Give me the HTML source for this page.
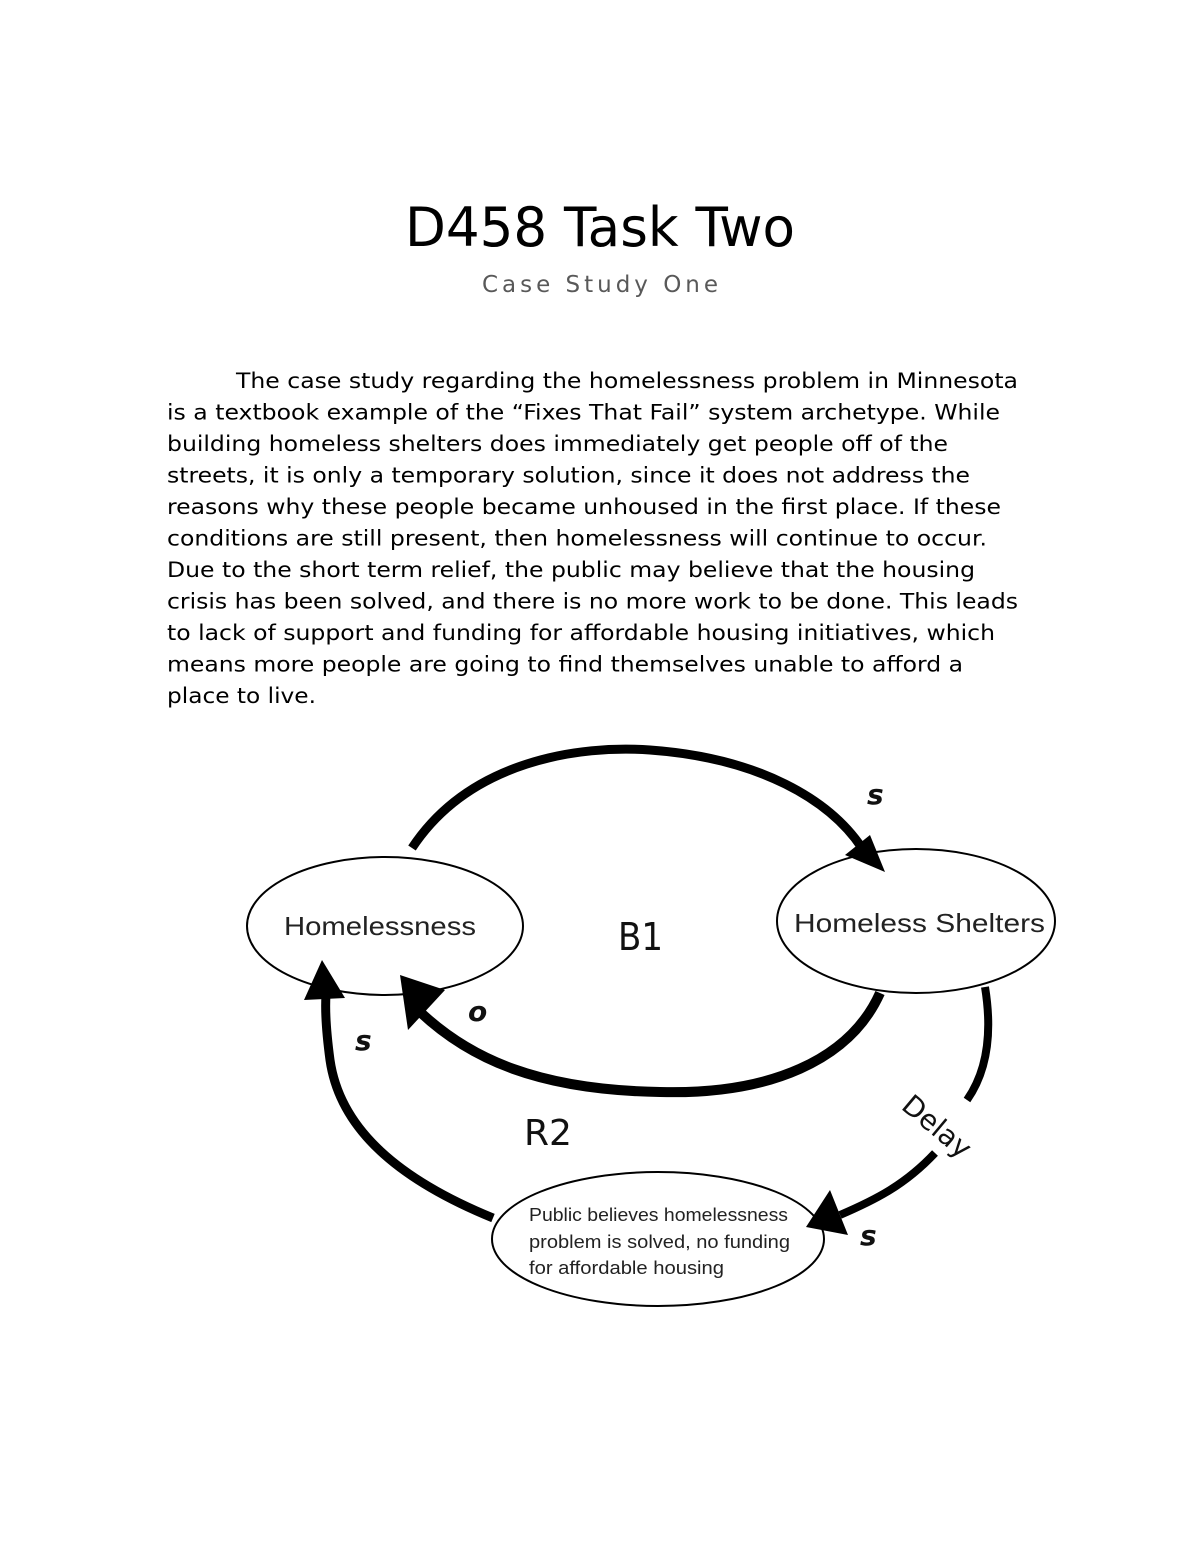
<!DOCTYPE html>
<html><head><meta charset="utf-8"><style>
html,body{margin:0;padding:0;background:#fff;}
svg{display:block;}
.b{font-family:"DejaVu Sans","Liberation Sans",sans-serif;font-size:21px;fill:#000;}
.c{font-family:"Liberation Sans","DejaVu Sans",sans-serif;}
.h{font-family:"DejaVu Sans","Liberation Sans",sans-serif;font-style:italic;font-weight:bold;fill:#111;}
</style></head><body>
<svg width="1200" height="1553" viewBox="0 0 1200 1553" xmlns="http://www.w3.org/2000/svg">
<text x="405" y="246" font-family="DejaVu Sans, sans-serif" font-size="54" textLength="390" lengthAdjust="spacingAndGlyphs">D458 Task Two</text>
<text x="482" y="292" font-family="DejaVu Sans, sans-serif" font-size="23" fill="#595959" textLength="236" lengthAdjust="spacing">Case Study One</text>
<g class="b">
<text x="236" y="388" textLength="782" lengthAdjust="spacingAndGlyphs">The case study regarding the homelessness problem in Minnesota</text>
<text x="167" y="419.5" textLength="833" lengthAdjust="spacingAndGlyphs">is a textbook example of the “Fixes That Fail” system archetype. While</text>
<text x="167" y="451" textLength="781" lengthAdjust="spacingAndGlyphs">building homeless shelters does immediately get people off of the</text>
<text x="167" y="482.5" textLength="803" lengthAdjust="spacingAndGlyphs">streets, it is only a temporary solution, since it does not address the</text>
<text x="167" y="514" textLength="834" lengthAdjust="spacingAndGlyphs">reasons why these people became unhoused in the first place. If these</text>
<text x="167" y="545.5" textLength="820" lengthAdjust="spacingAndGlyphs">conditions are still present, then homelessness will continue to occur.</text>
<text x="167" y="577" textLength="808" lengthAdjust="spacingAndGlyphs">Due to the short term relief, the public may believe that the housing</text>
<text x="167" y="608.5" textLength="851" lengthAdjust="spacingAndGlyphs">crisis has been solved, and there is no more work to be done. This leads</text>
<text x="167" y="640" textLength="828" lengthAdjust="spacingAndGlyphs">to lack of support and funding for affordable housing initiatives, which</text>
<text x="167" y="671.5" textLength="796" lengthAdjust="spacingAndGlyphs">means more people are going to find themselves unable to afford a</text>
<text x="167" y="703" textLength="149" lengthAdjust="spacingAndGlyphs">place to live.</text>
</g>
<g fill="none" stroke="#000" stroke-linecap="butt">
<ellipse cx="385" cy="926" rx="138" ry="69" stroke-width="2"/>
<ellipse cx="916" cy="921" rx="139" ry="72" stroke-width="2"/>
<ellipse cx="658" cy="1239" rx="166" ry="67" stroke-width="2"/>
<path d="M412 848 C470 760 580 745 650 750 C760 758 830 800 862 848" stroke-width="9"/>
<path d="M880 993 C850 1060 770 1095 660 1092 C540 1090 470 1060 418 1010" stroke-width="10"/>
<path d="M493 1218 C400 1180 340 1130 330 1060 C326 1030 325 1010 326 995" stroke-width="9"/>
<path d="M985 987 C992 1030 988 1070 967 1100" stroke-width="8"/>
<path d="M935 1153 C905 1185 875 1200 840 1215" stroke-width="8"/>
</g>
<g fill="#000">
<polygon points="885,872 845,855 870,835"/>
<polygon points="400,975 445,990 408,1030"/>
<polygon points="322,960 304,1000 345,998"/>
<polygon points="806,1227 830,1190 848,1235"/>
</g>
<g class="c" fill="#222">
<text x="284" y="935" font-size="26" textLength="192" lengthAdjust="spacingAndGlyphs">Homelessness</text>
<text x="794" y="932" font-size="26" textLength="251" lengthAdjust="spacingAndGlyphs">Homeless Shelters</text>
<text x="529" y="1221" font-size="18.5" textLength="259" lengthAdjust="spacingAndGlyphs">Public believes homelessness</text>
<text x="529" y="1248" font-size="18.5" textLength="261" lengthAdjust="spacingAndGlyphs">problem is solved, no funding</text>
<text x="529" y="1274" font-size="18.5" textLength="195" lengthAdjust="spacingAndGlyphs">for affordable housing</text>
</g>
<g class="h">
<text x="867" y="804" font-size="28">s</text>
<text x="618" y="950" font-size="38" font-style="normal" font-weight="normal" textLength="45" lengthAdjust="spacingAndGlyphs">B1</text>
<text x="468" y="1021" font-size="28">o</text>
<text x="355" y="1050" font-size="28">s</text>
<text x="524" y="1145" font-size="36" font-style="normal" font-weight="normal" textLength="48" lengthAdjust="spacingAndGlyphs">R2</text>
<text x="860" y="1245" font-size="28">s</text>
<text x="900" y="1108" font-size="28" font-style="normal" font-weight="normal" transform="rotate(40 900 1108)">Delay</text>
</g>
</svg>
</body></html>
